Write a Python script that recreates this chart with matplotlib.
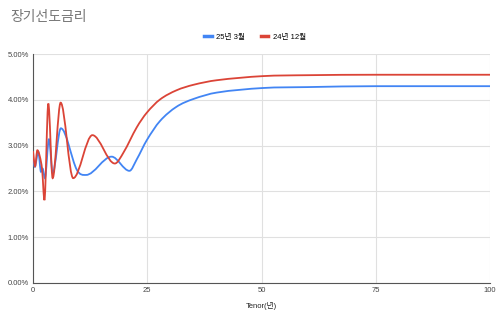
import numpy as np
import matplotlib
matplotlib.use('Agg')
import matplotlib.pyplot as plt
from matplotlib.path import Path
from matplotlib.patches import PathPatch

plt.rcParams['font.family'] = ['Liberation Sans', 'Noto Sans CJK KR', 'DejaVu Sans']

# values (tenor in years, rate in %)
tenor_mar = [0, 0.4, 1.15, 1.75, 2.1, 2.6, 3.5, 4.3, 6.1, 9.6, 11.6, 17.2, 21.1,
             22.7, 24.9, 27.8, 31.4, 35.1, 40.2, 50.3, 60, 75, 100]
rate_mar = [2.69, 2.54, 2.87, 2.43, 2.50, 2.29, 3.14, 2.40, 3.38, 2.47, 2.36, 2.76, 2.45,
            2.70, 3.12, 3.54, 3.85, 4.02, 4.16, 4.26, 4.28, 4.30, 4.30]

tenor_dec = [0, 0.45, 0.95, 1.5, 2.0, 2.5, 3.35, 4.3, 6.05, 8.8, 13.0, 17.9,
             19.8, 22.7, 24.9, 27.8, 31.4, 35.1, 40.2, 50.3, 60, 75, 100]
rate_dec = [2.88, 2.55, 2.90, 2.76, 2.47, 1.81, 3.92, 2.29, 3.94, 2.29, 3.23, 2.61,
            2.85, 3.40, 3.72, 4.01, 4.21, 4.33, 4.43, 4.52, 4.54, 4.55, 4.55]

series_names = ['25년 3월', '24년 12월']
series_colors = ['#4285f4', '#db4437']
x_ticks = [0, 25, 50, 75, 100]
y_ticks = [0, 1, 2, 3, 4, 5]


def smooth_path(xs, ys):
    # cubic bezier through the points, tangents flattened at turning points
    xs = np.asarray(xs, float)
    ys = np.asarray(ys, float)
    h = np.diff(xs)
    d = np.diff(ys) / h
    m = np.zeros_like(ys)
    m[0] = d[0]
    m[-1] = d[-1]
    for i in range(1, len(xs) - 1):
        if d[i - 1] * d[i] <= 0:
            m[i] = 0
        else:
            m[i] = (ys[i + 1] - ys[i - 1]) / (xs[i + 1] - xs[i - 1])
    verts = [(xs[0], ys[0])]
    codes = [Path.MOVETO]
    for i in range(len(xs) - 1):
        verts += [(xs[i] + h[i] / 3, ys[i] + m[i] * h[i] / 3),
                  (xs[i + 1] - h[i] / 3, ys[i + 1] - m[i + 1] * h[i] / 3),
                  (xs[i + 1], ys[i + 1])]
        codes += [Path.CURVE4] * 3
    return Path(verts, codes)


fig = plt.figure(figsize=(5, 3.13), dpi=100)
ax = fig.add_axes([0.066, 0.096, 0.914, 0.731])

for xs, ys, name, c in zip([tenor_mar, tenor_dec], [rate_mar, rate_dec], series_names, series_colors):
    ax.add_patch(PathPatch(smooth_path(xs, ys), facecolor='none', edgecolor=c, lw=1.3, zorder=3))
    ax.plot([], [], color=c, lw=2.5, label=name)

ax.set_xlim(0, 100)
ax.set_ylim(0, 5)
ax.set_xticks(x_ticks)
ax.set_yticks(y_ticks)
ax.set_yticklabels(['%.2f%%' % v for v in y_ticks])
ax.tick_params(length=0, labelsize=5.5, colors='#444444', pad=3)
ax.grid(True, color='#e0e0e0', lw=0.8)
ax.set_axisbelow(True)
for s in ['top', 'right']:
    ax.spines[s].set_visible(False)
for s in ['left', 'bottom']:
    ax.spines[s].set_color('#555555')
    ax.spines[s].set_linewidth(0.8)

ax.set_xlabel('Tenor(년)', fontsize=5.5, color='#222222', labelpad=6)
fig.text(0.02, 0.945, '장기선도금리', fontsize=10, color='#757575', va='center')
fig.legend(loc='center', bbox_to_anchor=(0.51, 0.882), ncol=2, frameon=False,
           fontsize=5.5, handlelength=1.0, columnspacing=2.0, handletextpad=0.6)

fig.savefig('out.png', dpi=100, facecolor='white')
